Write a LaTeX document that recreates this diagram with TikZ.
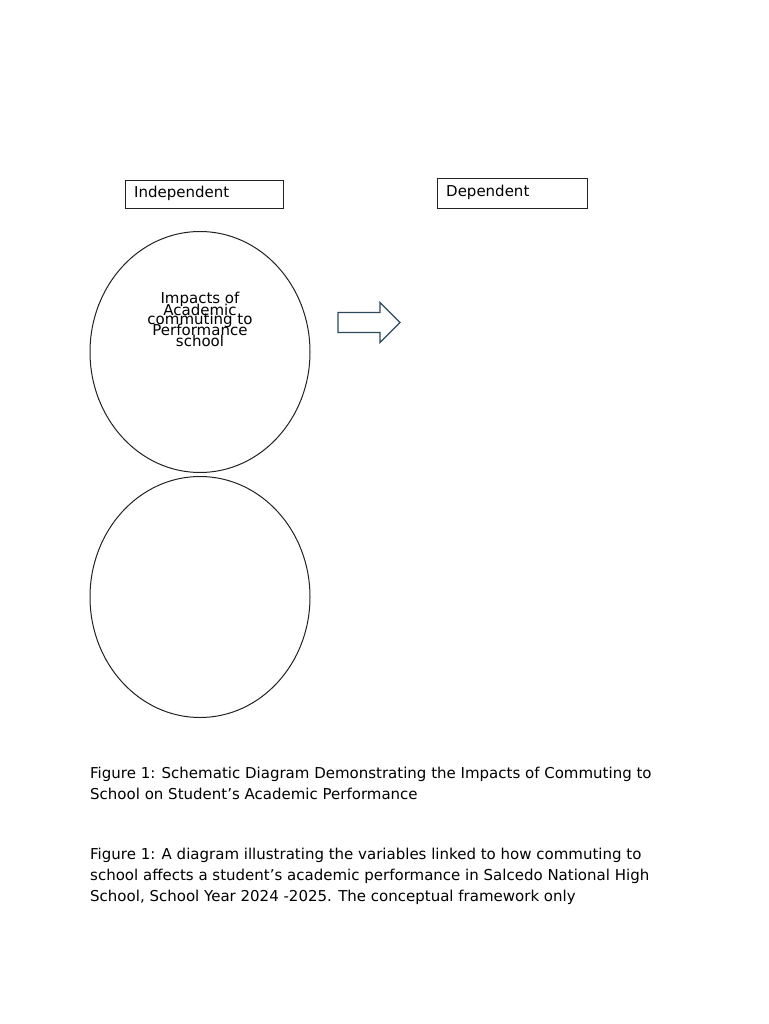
\documentclass[tikz,border=0pt]{standalone}
\usepackage{fontspec}
\setmainfont{DejaVu Sans}
\usetikzlibrary{shapes.geometric}
\definecolor{arrowc}{HTML}{2E4A5A}
\definecolor{linec}{HTML}{222222}
\tikzset{
  x=1pt,y=1pt,
  boxline/.style={draw=linec, line width=0.8pt},
  boxtext/.style={anchor=west, inner sep=0pt, font=\fontsize{15}{17}\selectfont},
  varellipse/.style={draw=linec, line width=1pt, ellipse, minimum width=220pt, minimum height=241pt, inner sep=0pt},
  overtext/.style={inner sep=0pt, font=\fontsize{15}{17}\selectfont},
  captext/.style={anchor=west, inner sep=0pt, font=\fontsize{15}{21}\selectfont, align=left}
}
\begin{document}
\begin{tikzpicture}
\useasboundingbox (0,0) rectangle (768,-1024);
\fill[white] (0,0) rectangle (768,-1024);
% label boxes
\draw[boxline] (125,-180) rectangle (283,-208);
\node[boxtext] (indep) at (134,-193) {Independent};
\draw[boxline] (437,-178) rectangle (587,-208);
\node[boxtext] (dep) at (446,-192) {Dependent};
% ellipses
\node[varellipse] (e1) at (200,-352) {};
\node[varellipse] (e2) at (200,-597) {};
% overlapping text lines
\node[overtext] (t1) at (200,-299.5) {Impacts of};
\node[overtext] (t2) at (200,-309.5) {Academic};
\node[overtext] (t3) at (200,-320) {commuting to};
\node[overtext] (t4) at (200,-330) {Performance};
\node[overtext] (t5) at (200,-340.5) {school};
% block arrow
\draw[draw=arrowc, line width=1.3pt, fill=white, line join=miter]
  (338,-312.5) -- (380,-312.5) -- (380,-302.5) -- (400,-322.5) -- (380,-342.5) -- (380,-332.5) -- (338,-332.5) -- cycle;
% captions
\node[captext] (c1) at (90,-783.5) {Figure 1: Schematic Diagram Demonstrating the Impacts of Commuting to\\School on Student’s Academic Performance};
\node[captext] (c2) at (90,-876.5) {Figure 1: A diagram illustrating the variables linked to how commuting to\\school affects a student’s academic performance in Salcedo National High\\School, School Year 2024 -2025. The conceptual framework only};
\end{tikzpicture}
\end{document}
